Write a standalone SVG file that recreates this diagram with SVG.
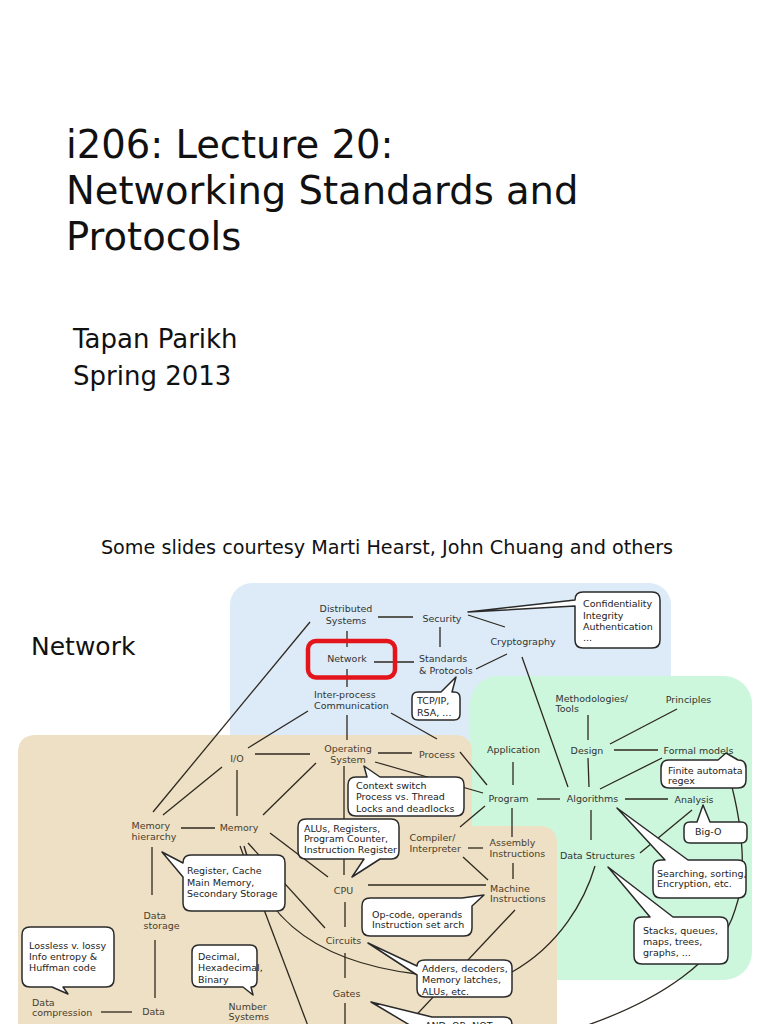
<svg xmlns="http://www.w3.org/2000/svg" width="768" height="1024" viewBox="0 0 768 1024">
<defs>
<style>
.title{font-family:"DejaVu Sans","Liberation Sans",sans-serif;fill:#111;}
.n{font-family:"DejaVu Sans","Liberation Sans",sans-serif;font-size:9.5px;fill:#333;}
.nt{font-family:"DejaVu Sans","Liberation Sans",sans-serif;font-size:9.5px;fill:#4a3d2c;}
.c{font-family:"DejaVu Sans","Liberation Sans",sans-serif;font-size:9.5px;fill:#222;}
.m{text-anchor:middle;}
.ln{stroke:#2e2820;stroke-width:1.3;fill:none;}
.co{fill:#fff;stroke:#2a2a2a;stroke-width:1.5;stroke-linejoin:round;}
</style>
</defs>
<rect width="768" height="1024" fill="#fff"/>
<g id="titles">
<text class="title" x="66" y="158" font-size="38.5">i206: Lecture 20:</text>
<text class="title" x="66" y="204" font-size="38.5">Networking Standards and</text>
<text class="title" x="66" y="250" font-size="38.5">Protocols</text>
<text class="title" x="73" y="348" font-size="26">Tapan Parikh</text>
<text class="title" x="73" y="385" font-size="26">Spring 2013</text>
<text class="title" x="387" y="554" font-size="19.2" text-anchor="middle">Some slides courtesy Marti Hearst, John Chuang and others</text>
<text class="title" x="31" y="655" font-size="25">Network</text>
</g>
<g id="panels">
<rect x="230" y="583" width="441" height="180" rx="22" fill="#dcebf7"/>
<rect x="470" y="676" width="282" height="304" rx="28" fill="#ccf7dc"/>
<path d="M36 735 L454 735 Q472 735 472 753 L472 826 L539 826 Q557 826 557 844 L557 1024 L18 1024 L18 753 Q18 735 36 735 Z" fill="#ede0c4"/>
</g>
<g id="connectors">
<line class="ln" x1="378" y1="617" x2="413" y2="617"/>
<line class="ln" x1="347" y1="631" x2="347" y2="647"/>
<line class="ln" x1="440" y1="627" x2="440" y2="647"/>
<line class="ln" x1="374" y1="662" x2="414" y2="662"/>
<line class="ln" x1="347" y1="669" x2="347" y2="687"/>
<line class="ln" x1="476" y1="669" x2="507" y2="654"/>
<line class="ln" x1="468" y1="615" x2="505" y2="627"/>
<line class="ln" x1="310" y1="622" x2="153" y2="812"/>
<line class="ln" x1="308" y1="711" x2="248" y2="748"/>
<line class="ln" x1="347" y1="715" x2="347" y2="740"/>
<line class="ln" x1="391" y1="713" x2="437" y2="739"/>
<line class="ln" x1="522" y1="657" x2="568" y2="787"/>
<line class="ln" x1="255" y1="754" x2="310" y2="754"/>
<line class="ln" x1="378" y1="753" x2="412" y2="753"/>
<line class="ln" x1="460" y1="752" x2="487" y2="785"/>
<line class="ln" x1="375" y1="762" x2="483" y2="793"/>
<line class="ln" x1="237" y1="770" x2="237" y2="816"/>
<line class="ln" x1="222" y1="767" x2="163" y2="815"/>
<line class="ln" x1="316" y1="763" x2="263" y2="815"/>
<line class="ln" x1="181" y1="828" x2="215" y2="828"/>
<line class="ln" x1="152" y1="847" x2="152" y2="895"/>
<line class="ln" x1="155" y1="940" x2="155" y2="998"/>
<line class="ln" x1="101" y1="1012" x2="132" y2="1012"/>
<line class="ln" x1="270" y1="833" x2="328" y2="877"/>
<line class="ln" x1="248" y1="843" x2="325" y2="928"/>
<line class="ln" x1="240" y1="846" x2="308" y2="1026"/>
<path class="ln" d="M244 846 C260 905 300 960 417 974"/>
<line class="ln" x1="344" y1="766" x2="344" y2="875"/>
<line class="ln" x1="513" y1="762" x2="513" y2="785"/>
<line class="ln" x1="537" y1="799" x2="560" y2="799"/>
<line class="ln" x1="485" y1="806" x2="460" y2="827"/>
<line class="ln" x1="512" y1="808" x2="512" y2="837"/>
<line class="ln" x1="468" y1="848" x2="483" y2="848"/>
<line class="ln" x1="463" y1="857" x2="488" y2="880"/>
<line class="ln" x1="513" y1="863" x2="513" y2="879"/>
<line class="ln" x1="368" y1="885" x2="486" y2="885"/>
<line class="ln" x1="345" y1="902" x2="345" y2="927"/>
<line class="ln" x1="345" y1="953" x2="345" y2="978"/>
<line class="ln" x1="345" y1="1003" x2="345" y2="1026"/>
<line class="ln" x1="515" y1="910" x2="405" y2="1027"/>
<path class="ln" d="M595 866 C585 900 560 945 512 972"/>
<line class="ln" x1="588" y1="715" x2="588" y2="740"/>
<line class="ln" x1="610" y1="744" x2="677" y2="709"/>
<line class="ln" x1="614" y1="750" x2="658" y2="750"/>
<line class="ln" x1="588" y1="758" x2="589" y2="787"/>
<line class="ln" x1="600" y1="789" x2="662" y2="758"/>
<line class="ln" x1="625" y1="799" x2="668" y2="799"/>
<line class="ln" x1="591" y1="810" x2="591" y2="840"/>
<line class="ln" x1="640" y1="853" x2="692" y2="810"/>
<path class="ln" d="M725 762 C746 830 746 880 735 910 C720 960 660 1000 585 1026"/>
</g>
<g id="highlight">
<rect x="308" y="641" width="87" height="36.5" rx="8" fill="none" stroke="#e3141b" stroke-width="4.5"/>
</g>
<g id="n-distributed"><text class="n m" x="346" y="612">Distributed</text><text class="n m" x="346" y="624">Systems</text></g>
<g id="n-security"><text class="n m" x="442" y="621.5">Security</text></g>
<g id="n-network"><text class="n m" x="347" y="662">Network</text></g>
<g id="n-standards"><text class="n" x="419" y="662">Standards</text><text class="n" x="419" y="673.5">&amp; Protocols</text></g>
<g id="n-crypto"><text class="n m" x="523" y="645">Cryptography</text></g>
<g id="n-ipc"><text class="n" x="314" y="698">Inter-process</text><text class="n" x="314" y="709">Communication</text></g>
<g id="n-io"><text class="nt m" x="237" y="762">I/O</text></g>
<g id="n-os"><text class="nt m" x="348" y="752">Operating</text><text class="nt m" x="348" y="762.5">System</text></g>
<g id="n-process"><text class="nt m" x="437" y="757.5">Process</text></g>
<g id="n-memhier"><text class="nt" x="131.5" y="829">Memory</text><text class="nt" x="131.5" y="840">hierarchy</text></g>
<g id="n-memory"><text class="nt m" x="239" y="831">Memory</text></g>
<g id="n-datastorage"><text class="nt" x="143.5" y="918.5">Data</text><text class="nt" x="143.5" y="929">storage</text></g>
<g id="n-data"><text class="nt m" x="153.5" y="1015">Data</text></g>
<g id="n-datacomp"><text class="nt" x="32" y="1006">Data</text><text class="nt" x="32" y="1016">compression</text></g>
<g id="n-numsys"><text class="nt" x="228.5" y="1009.5">Number</text><text class="nt" x="228.5" y="1020">Systems</text></g>
<g id="n-cpu"><text class="nt m" x="343.5" y="893.5">CPU</text></g>
<g id="n-circuits"><text class="nt m" x="343.5" y="943.5">Circuits</text></g>
<g id="n-gates"><text class="nt m" x="346.5" y="997">Gates</text></g>
<g id="n-compiler"><text class="nt" x="409.5" y="841">Compiler/</text><text class="nt" x="409.5" y="851.5">Interpreter</text></g>
<g id="n-assembly"><text class="nt" x="489.5" y="846">Assembly</text><text class="nt" x="489.5" y="856.5">Instructions</text></g>
<g id="n-machine"><text class="nt" x="490" y="892">Machine</text><text class="nt" x="490" y="901.5">Instructions</text></g>
<g id="n-application"><text class="n m" x="513.5" y="753">Application</text></g>
<g id="n-program"><text class="n m" x="508.5" y="802">Program</text></g>
<g id="n-method"><text class="n" x="555.5" y="702">Methodologies/</text><text class="n" x="555.5" y="711.5">Tools</text></g>
<g id="n-principles"><text class="n m" x="688.5" y="702.5">Principles</text></g>
<g id="n-design"><text class="n m" x="587" y="753.5">Design</text></g>
<g id="n-formal"><text class="n m" x="698.5" y="753.5">Formal models</text></g>
<g id="n-algorithms"><text class="n m" x="592.5" y="802">Algorithms</text></g>
<g id="n-analysis"><text class="n m" x="694" y="803">Analysis</text></g>
<g id="n-datastruct"><text class="n" x="560" y="859">Data Structures</text></g>
<g id="c-confidentiality">
<path class="co" d="M583 592 L652 592 Q660 592 660 600 L660 640 Q660 648 652 648 L583 648 Q575 648 575 640 L575 606 L468 612 L575 600 Q575 592 583 592 Z"/>
<text class="c" x="583" y="607">Confidentiality</text><text class="c" x="583" y="618.5">Integrity</text><text class="c" x="583" y="629.5">Authentication</text><text class="c" x="583" y="641">...</text>
</g>
<g id="c-tcpip">
<path class="co" d="M418 692 L441 692 L456 677 L452 692 L454 692 Q460 692 460 698 L460 714 Q460 720 454 720 L418 720 Q412 720 412 714 L412 698 Q412 692 418 692 Z"/>
<text class="c" x="417" y="704">TCP/IP,</text><text class="c" x="417" y="716">RSA, ...</text>
</g>
<g id="c-context">
<path class="co" d="M356 777 L367 777 L364 766 L380 777 L456 777 Q464 777 464 785 L464 808 Q464 816 456 816 L356 816 Q348 816 348 808 L348 785 Q348 777 356 777 Z"/>
<text class="c" x="356" y="789">Context switch</text><text class="c" x="356" y="800">Process vs. Thread</text><text class="c" x="356" y="811.5">Locks and deadlocks</text>
</g>
<g id="c-alus">
<path class="co" d="M306 819 L391 819 Q399 819 399 827 L399 851 Q399 859 391 859 L380 859 L352 877 L364 859 L306 859 Q298 859 298 851 L298 827 Q298 819 306 819 Z"/>
<text class="c" x="304" y="832">ALUs, Registers,</text><text class="c" x="304" y="842">Program Counter,</text><text class="c" x="304" y="853">Instruction Register</text>
</g>
<g id="c-register">
<path class="co" d="M191 855 L277 855 Q285 855 285 863 L285 903 Q285 911 277 911 L191 911 Q183 911 183 903 L183 877 L162 852 L183 863 Q183 855 191 855 Z"/>
<text class="c" x="187" y="874">Register, Cache</text><text class="c" x="187" y="886">Main Memory,</text><text class="c" x="187" y="897">Secondary Storage</text>
</g>
<g id="c-opcode">
<path class="co" d="M370 898 L462 898 L484 895 L472 906 L472 928 Q472 936 464 936 L370 936 Q362 936 362 928 L362 906 Q362 898 370 898 Z"/>
<text class="c" x="372" y="917.5">Op-code, operands</text><text class="c" x="372" y="927.5">Instruction set arch</text>
</g>
<g id="c-lossless">
<path class="co" d="M30 927 L106 927 Q114 927 114 935 L114 979 Q114 987 106 987 L63 987 L68 994 L52 987 L30 987 Q22 987 22 979 L22 935 Q22 927 30 927 Z"/>
<text class="c" x="29" y="948.5">Lossless v. lossy</text><text class="c" x="29" y="959.5">Info entropy &amp;</text><text class="c" x="29" y="971">Huffman code</text>
</g>
<g id="c-decimal">
<path class="co" d="M199 945 L250 945 Q257 945 257 952 L257 980 Q257 987 251 987 L253 995 L243 987 L199 987 Q192 987 192 980 L192 952 Q192 945 199 945 Z"/>
<text class="c" x="198" y="960">Decimal,</text><text class="c" x="198" y="971">Hexadecimal,</text><text class="c" x="198" y="983">Binary</text>
</g>
<g id="c-adders">
<path class="co" d="M425 960 L504 960 Q512 960 512 968 L512 989 Q512 997 504 997 L425 997 Q417 997 417 989 L417 975 L368 943 L417 966 Q417 960 425 960 Z"/>
<text class="c" x="422" y="972">Adders, decoders,</text><text class="c" x="422" y="982.5">Memory latches,</text><text class="c" x="422" y="994.5">ALUs, etc.</text>
</g>
<g id="c-and">
<path class="co" d="M432 1017 L504 1017 Q512 1017 512 1025 L512 1050 L418 1050 L418 1030 L371 1002 L432 1017 Z"/>
<text class="c" x="425" y="1029">AND, OR, NOT</text>
</g>
<g id="c-finite">
<path class="co" d="M669 760 L718 760 L726 753 L738 760 L738 760 Q746 760 746 768 L746 780 Q746 788 738 788 L669 788 Q661 788 661 780 L661 768 Q661 760 669 760 Z"/>
<text class="c" x="668" y="773.5">Finite automata</text><text class="c" x="668" y="783.5">regex</text>
</g>
<g id="c-bigo">
<path class="co" d="M690 822 L697 822 L703 805 L710 822 L741 822 Q747 822 747 828 L747 837 Q747 843 741 843 L690 843 Q684 843 684 837 L684 828 Q684 822 690 822 Z"/>
<text class="c" x="695" y="835">Big-O</text>
</g>
<g id="c-searching">
<path class="co" d="M661 860 L665 860 L617 808 L688 860 L738 860 Q746 860 746 868 L746 890 Q746 898 738 898 L661 898 Q653 898 653 890 L653 868 Q653 860 661 860 Z"/>
<text class="c" x="657" y="877">Searching, sorting,</text><text class="c" x="657" y="887">Encryption, etc.</text>
</g>
<g id="c-stacks">
<path class="co" d="M642 917 L650 917 L608 867 L673 917 L720 917 Q728 917 728 925 L728 956 Q728 964 720 964 L642 964 Q634 964 634 956 L634 925 Q634 917 642 917 Z"/>
<text class="c" x="643" y="934">Stacks, queues,</text><text class="c" x="643" y="944.5">maps, trees,</text><text class="c" x="643" y="956">graphs, ...</text>
</g>
</svg>
